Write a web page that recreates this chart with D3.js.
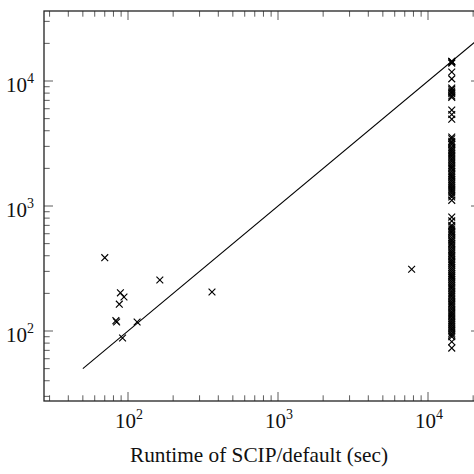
<!DOCTYPE html>
<html><head><meta charset="utf-8">
<script src="https://cdn.jsdelivr.net/npm/d3@7"></script>
<style>html,body{margin:0;padding:0;background:#fff;overflow:hidden}</style>
</head><body>
<svg id="c" width="474" height="474"></svg>
<script>
// Data: runtime of SCIP/default (x) vs. other setting (y), seconds
const leftX = [70, 163, 89, 94, 87.5, 83, 84, 115, 92, 363, 7780];
const leftY = [386, 256, 202, 187, 164, 121, 118, 118, 88, 205, 312];
// instances hitting the time limit of SCIP/default (x = 14400 s)
const timeLimit = 14400;
const limitY = [
  14400, 14300, 14200, 13900, 11800, 10400, 8800, 8600, 8300, 8100, 7900, 7600, 7400, 5850,
  5400, 4950, 3560, 3450, 3300, 3200, 3100, 2950, 2850, 2750, 2650, 2560, 2480, 2380, 2290, 2200, 2120,
  2050, 1990, 1900, 1830, 1770, 1710, 1640, 1580, 1520, 1470, 1420, 1370, 1320, 1270, 1220, 1180, 1110,
  815, 760, 700, 680, 655, 630, 610, 585, 560, 540, 525, 505, 490, 470, 450, 435, 420, 405, 392,
  375, 362, 350, 338, 324, 312, 300, 290, 280, 271, 260, 250, 241, 232, 225, 218, 209, 201, 194, 188,
  180, 173, 167, 162, 156, 150, 144, 139, 134, 130, 125, 120, 116, 112, 108, 104, 100, 96, 93, 90,
  82, 73];
const refLine = [50, 30000];
const xTickLabels = ["10^2", "10^3", "10^4"];
const yTickLabels = ["10^2", "10^3", "10^4"];
const xTitle = "Runtime of SCIP/default (sec)";

const svg = d3.select("#c");
const L = 44, R = 480, T = 11, B = 401;
const x = d3.scaleLog().domain([Math.pow(10, 2 - 84/150), Math.pow(10, 4 + 52/150)]).range([L, R]);
const y = d3.scaleLog().domain([Math.pow(10, 2 - 70/125), Math.pow(10, 4 + 70/125)]).range([B, T]);

svg.append("defs").append("clipPath").attr("id","clip")
  .append("rect").attr("x",L).attr("y",T).attr("width",R-L).attr("height",B-T);

function tickList(scale){
  const [a,b] = scale.domain(); const out=[];
  for(let e=Math.floor(Math.log10(a)); e<=Math.ceil(Math.log10(b)); e++){
    for(let k=1;k<=9;k++){ const v=k*Math.pow(10,e); if(v>=a&&v<=b) out.push({v, major:k===1}); }
  }
  return out;
}
const MAJ=9, MIN=5.7;
const tk = svg.append("g").attr("stroke","#333").attr("stroke-width",0.8);
tickList(x).forEach(t=>{
  const px=x(t.v), len=t.major?MAJ:MIN;
  tk.append("line").attr("x1",px).attr("x2",px).attr("y1",B).attr("y2",B-len);
  tk.append("line").attr("x1",px).attr("x2",px).attr("y1",T).attr("y2",T+len);
});
tickList(y).forEach(t=>{
  const py=y(t.v), len=t.major?MAJ:MIN;
  tk.append("line").attr("x1",L).attr("x2",L+len).attr("y1",py).attr("y2",py);
  tk.append("line").attr("x1",R).attr("x2",R-len).attr("y1",py).attr("y2",py);
});

// frame
svg.append("rect").attr("x",L).attr("y",T).attr("width",R-L).attr("height",B-T)
  .attr("fill","none").attr("stroke","#222").attr("stroke-width",1.3);

const plot = svg.append("g").attr("clip-path","url(#clip)");
plot.append("line")
  .attr("x1", x(refLine[0])).attr("y1", y(refLine[0]))
  .attr("x2", x(refLine[1])).attr("y2", y(refLine[1]))
  .attr("stroke","#000").attr("stroke-width",1.1);

const s = 3.4;
const pts = leftX.map((v,i)=>[v,leftY[i]]).concat(limitY.map(v=>[timeLimit,v]));
plot.append("g").attr("stroke","#000").attr("stroke-width",1.15)
  .selectAll("path").data(pts).join("path")
  .attr("d", d=>{const cx=x(d[0]), cy=y(d[1]);
    return `M${cx-s},${cy-s}L${cx+s},${cy+s}M${cx-s},${cy+s}L${cx+s},${cy-s}`;})
  .attr("fill","none");

const font = "'Liberation Serif', 'DejaVu Serif', serif";
function powLabel(g, label, px, py, anchor){
  const [base, exp] = label.split("^");
  const t = g.append("text").attr("x",px).attr("y",py).attr("text-anchor",anchor)
    .attr("font-family",font).attr("font-size",21).attr("fill","#111");
  t.append("tspan").text(base);
  t.append("tspan").attr("font-size",14).attr("dy",-9).text(exp);
}
const lab = svg.append("g");
xTickLabels.forEach(l=>{
  const v = Math.pow(10, +l.split("^")[1]);
  powLabel(lab, l, x(v)+1, 428, "middle");
});
yTickLabels.forEach(l=>{
  const v = Math.pow(10, +l.split("^")[1]);
  powLabel(lab, l, 34, y(v)+11, "end");
});
svg.append("text").attr("x", 259).attr("y", 462).attr("text-anchor","middle")
  .attr("font-family",font).attr("font-size",21).attr("fill","#111")
  .attr("textLength",258).attr("lengthAdjust","spacingAndGlyphs").text(xTitle);
</script>
</body></html>
